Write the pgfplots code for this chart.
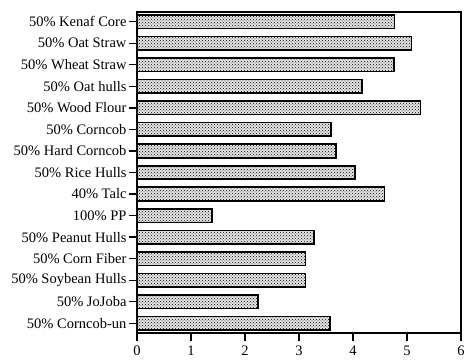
\documentclass[border=0pt]{standalone}
\usepackage{pgfplots}
\pgfplotsset{compat=1.18}
\usepackage{fontspec}
\setmainfont{Liberation Serif}
\usetikzlibrary{patterns}
\begin{document}
\begin{tikzpicture}
\begin{axis}[
  at={(0,0)}, anchor=south west,
  scale only axis, width=324pt, height=321pt,
  xbar, bar width=13.5pt,
  xmin=0, xmax=6, xtick={0,1,2,3,4,5,6},
  ymin=-0.45, ymax=14.45, y dir=reverse,
  ytick={0,...,14},
  yticklabels={50\% Kenaf Core, 50\% Oat Straw, 50\% Wheat Straw, 50\% Oat hulls, 50\% Wood Flour, 50\% Corncob, 50\% Hard Corncob, 50\% Rice Hulls, 40\% Talc, 100\% PP, 50\% Peanut Hulls, 50\% Corn Fiber, 50\% Soybean Hulls, 50\% JoJoba, 50\% Corncob-un},
  tick align=outside, major tick length=8pt,
  tick style={line width=1.3pt, black},
  axis line style={line width=1.6pt},
  xtick pos=bottom, ytick pos=left,
  tick label style={font=\fontsize{14.5}{16}\selectfont},
  yticklabel style={xshift=1pt},
  xticklabel style={yshift=-1pt},
  /pgf/number format/assume math mode=true,
]
\addplot[draw=black, line width=1.6pt, fill=gray!20, postaction={pattern=crosshatch dots}] coordinates {
(4.77,0) (5.08,1) (4.76,2) (4.17,3) (5.25,4) (3.59,5) (3.69,6) (4.04,7) (4.58,8) (1.39,9) (3.28,10) (3.12,11) (3.12,12) (2.24,13) (3.57,14)};
\end{axis}
\pgfresetboundingbox
\path (-137pt,-30pt) rectangle (337pt,333pt);
\end{tikzpicture}
\end{document}
